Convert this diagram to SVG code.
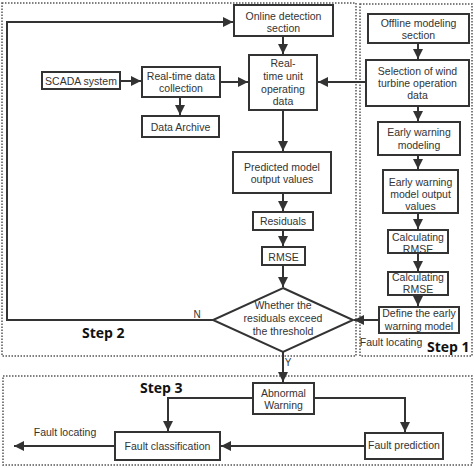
<svg xmlns="http://www.w3.org/2000/svg" width="474" height="468" viewBox="0 0 474 468">
<defs>
<marker id="ah" viewBox="0 0 10 10" refX="10" refY="5" markerWidth="10" markerHeight="10" markerUnits="userSpaceOnUse" orient="auto">
<path d="M0,0 L10,5 L0,10 z" fill="#333"/>
</marker>
<style>
.box{fill:#fff;stroke:#333;stroke-width:2}
.frame{fill:none;stroke:#555;stroke-width:1.5;stroke-dasharray:1.5 1.5}
.t{font-family:"Liberation Sans",Arial,sans-serif;font-size:10.5px;fill:#333;text-anchor:middle}
.s{font-family:"Open Sans","Noto Sans",sans-serif;font-size:14px;font-weight:bold;fill:#111}
.c{fill:none;stroke:#333;stroke-width:2}
</style>
</defs>
<rect width="474" height="468" fill="#fff"/>
<g id="frames">
<rect class="frame" x="2" y="3" width="354" height="353"/>
<rect class="frame" x="360" y="4" width="112" height="352"/>
<rect class="frame" x="3" y="376" width="469" height="89"/>
</g>
<g id="connectors">
<path class="c" d="M213,320 H7 V22 H233" marker-end="url(#ah)"/>
<path class="c" d="M283,36 V54" marker-end="url(#ah)"/>
<path class="c" d="M120,81 H141" marker-end="url(#ah)"/>
<path class="c" d="M220,82 H248" marker-end="url(#ah)"/>
<path class="c" d="M180,97 V115" marker-end="url(#ah)"/>
<path class="c" d="M366,82 H318" marker-end="url(#ah)"/>
<path class="c" d="M418,43 V59" marker-end="url(#ah)"/>
<path class="c" d="M418,106 V121" marker-end="url(#ah)"/>
<path class="c" d="M418,155 V169" marker-end="url(#ah)"/>
<path class="c" d="M418,213 V229" marker-end="url(#ah)"/>
<path class="c" d="M418,253 V271" marker-end="url(#ah)"/>
<path class="c" d="M418,295 V306" marker-end="url(#ah)"/>
<path class="c" d="M379,320 H354" marker-end="url(#ah)"/>
<path class="c" d="M283,110 V151" marker-end="url(#ah)"/>
<path class="c" d="M283,193 V211" marker-end="url(#ah)"/>
<path class="c" d="M283,230 V246" marker-end="url(#ah)"/>
<path class="c" d="M283,265 V287" marker-end="url(#ah)"/>
<path class="c" d="M283,352 V382" marker-end="url(#ah)"/>
<path class="c" d="M314,398 H405 V432" marker-end="url(#ah)"/>
<path class="c" d="M253,398 H168 V431" marker-end="url(#ah)"/>
<path class="c" d="M365,446 H221" marker-end="url(#ah)"/>
<path class="c" d="M115,446 H14" marker-end="url(#ah)"/>
</g>
<g id="online"><rect class="box" x="234" y="5" width="99" height="31"/><text class="t" x="283.5" y="20">Online detection</text><text class="t" x="283.5" y="32">section</text></g>
<g id="offline"><rect class="box" x="368" y="14" width="101" height="29"/><text class="t" x="418.5" y="27">Offline modeling</text><text class="t" x="418.5" y="39">section</text></g>
<g id="realtime-unit"><rect class="box" x="249" y="55" width="68" height="55"/><text class="t" x="283" y="67">Real-</text><text class="t" x="283" y="80">time unit</text><text class="t" x="283" y="93">operating</text><text class="t" x="283" y="105">data</text></g>
<g id="selection"><rect class="box" x="366" y="60" width="103" height="46"/><text class="t" x="417.5" y="75">Selection of wind</text><text class="t" x="417.5" y="87">turbine operation</text><text class="t" x="417.5" y="99">data</text></g>
<g id="ew-modeling"><rect class="box" x="378" y="122" width="82" height="33"/><text class="t" x="419" y="136">Early warning</text><text class="t" x="419" y="149">modeling</text></g>
<g id="scada"><rect class="box" x="42" y="72" width="78" height="17"/><text class="t" x="81" y="85">SCADA system</text></g>
<g id="collection"><rect class="box" x="142" y="67" width="78" height="30"/><text class="t" x="181" y="80">Real-time data</text><text class="t" x="181" y="92">collection</text></g>
<g id="archive"><rect class="box" x="142" y="116" width="77" height="21"/><text class="t" x="180.5" y="131">Data Archive</text></g>
<g id="predicted"><rect class="box" x="233" y="152" width="98" height="41"/><text class="t" x="282" y="171">Predicted model</text><text class="t" x="282" y="183">output values</text></g>
<g id="residuals"><rect class="box" x="253" y="212" width="60" height="18"/><text class="t" x="283" y="225">Residuals</text></g>
<g id="rmse"><rect class="box" x="262" y="247" width="43" height="18"/><text class="t" x="283.5" y="261">RMSE</text></g>
<g id="decision"><polygon class="box" points="283,288 353,320 283,352 213,320"/><text class="t" x="283" y="309">Whether the</text><text class="t" x="283" y="322">residuals exceed</text><text class="t" x="283" y="335">the threshold</text></g>
<g id="ew-output"><rect class="box" x="383" y="170" width="75" height="43"/><text class="t" x="420.5" y="186">Early warning</text><text class="t" x="420.5" y="198">model output</text><text class="t" x="420.5" y="210">values</text></g>
<g id="calc1"><rect class="box" x="388" y="230" width="60" height="23"/><text class="t" x="418" y="241">Calculating</text><text class="t" x="418" y="253">RMSE</text></g>
<g id="calc2"><rect class="box" x="388" y="272" width="60" height="23"/><text class="t" x="418" y="281">Calculating</text><text class="t" x="418" y="293">RMSE</text></g>
<g id="define"><rect class="box" x="379" y="307" width="80" height="26"/><text class="t" x="419" y="317">Define the early</text><text class="t" x="419" y="330">warning model</text></g>
<g id="abnormal"><rect class="box" x="253" y="383" width="61" height="31"/><text class="t" x="283.5" y="397">Abnormal</text><text class="t" x="283.5" y="409">Warning</text></g>
<g id="prediction"><rect class="box" x="365" y="433" width="78" height="26"/><text class="t" x="404" y="449">Fault prediction</text></g>
<g id="classification"><rect class="box" x="115" y="432" width="105" height="28"/><text class="t" x="167.5" y="450">Fault classification</text></g>
<g id="labels">
<text class="t" x="65" y="436">Fault locating</text>
<text class="t" x="391" y="346">Fault locating</text>
<text class="t" x="197" y="318" style="font-size:10px">N</text>
<text class="t" x="288" y="366" style="font-size:10px">Y</text>
<text class="s" x="82" y="338">Step 2</text>
<text class="s" x="427" y="352">Step 1</text>
<text class="s" x="140" y="393">Step 3</text>
</g>
</svg>
